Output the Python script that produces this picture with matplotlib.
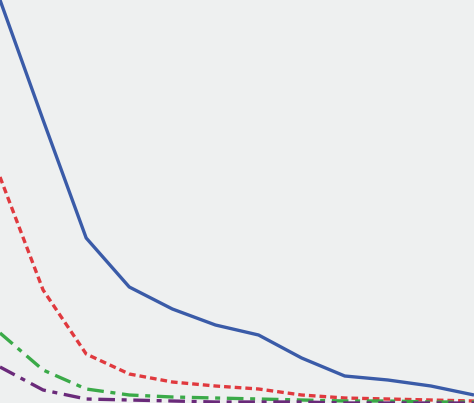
import numpy as np
import matplotlib
matplotlib.use("Agg")
import matplotlib.pyplot as plt

steps = np.arange(12)
blue = [403, 283, 165, 116, 94, 78, 68, 45, 27, 23, 17, 8]
red = [226, 113, 49, 29, 21, 17, 14, 8, 5, 4, 3, 2]
green = [70, 33, 14, 8, 6, 5, 4, 3, 2, 2, 1, 1]
purple = [36, 13, 4, 3, 2, 1, 1, 1, 0, 0, 0, 0]

fig = plt.figure(figsize=(4.74, 4.03), dpi=100)
ax = fig.add_axes([0, 0, 1, 1])
ax.set_facecolor('#eef0f0')
fig.patch.set_facecolor('#eef0f0')

ax.plot(steps, blue, color='#3a5ba8', lw=2.4, solid_capstyle='butt')
ax.plot(steps, red, color='#e0393e', lw=2.4, ls=(0, (2, 1.2)))
ax.plot(steps, green, color='#3aaa48', lw=2.4, ls=(0, (5, 2, 1.5, 2)))
ax.plot(steps, purple, color='#6a2a7a', lw=2.4, ls=(0, (5, 2, 1.5, 2)))

ax.set_xlim(0, 11)
ax.set_ylim(0, 403)
ax.axis('off')

plt.savefig('out.png', facecolor=fig.get_facecolor())
